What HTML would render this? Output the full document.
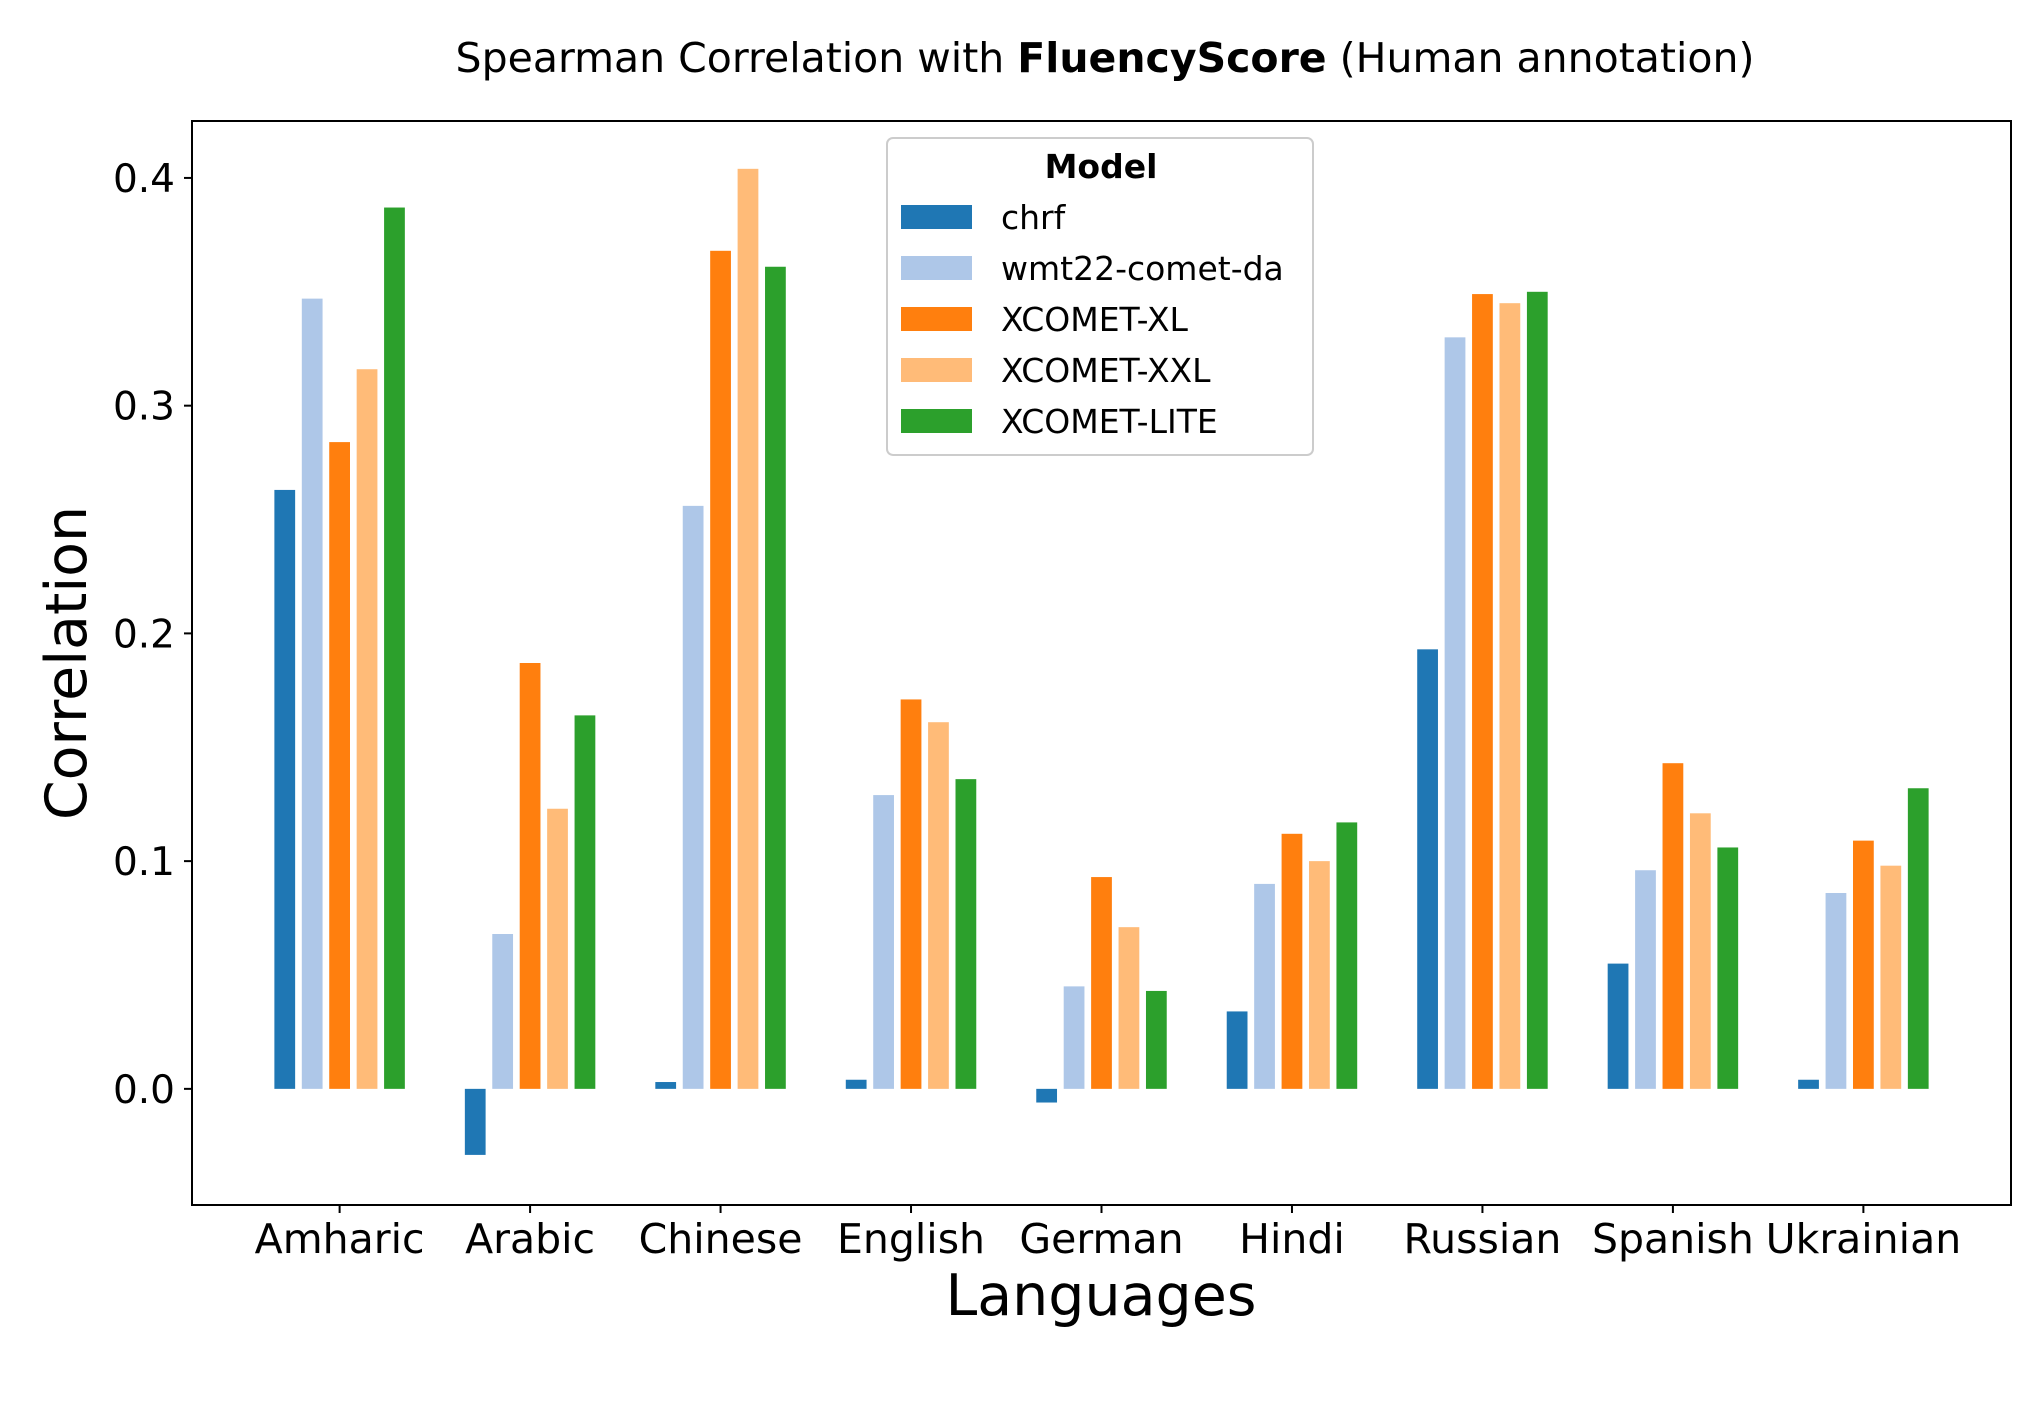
<!DOCTYPE html>
<html><head><meta charset="utf-8"><style>
html,body{margin:0;padding:0;background:#fff}
svg{display:block;font-family:"DejaVu Sans","Liberation Sans",sans-serif}
</style></head><body>
<svg id="chart" width="2043" height="1427" viewBox="0 0 2043 1427">
<rect width="2043" height="1427" fill="#fff"/>
<text x="1105" y="72" font-size="41" text-anchor="middle">Spearman Correlation with <tspan font-weight="bold">FluencyScore</tspan> (Human annotation)</text>
<g id="plot"></g>
<rect x="192" y="121" width="1819" height="1084" fill="none" stroke="#000" stroke-width="2"/>
<text transform="translate(86,663) rotate(-90)" font-size="57" text-anchor="middle">Correlation</text>
<text x="1101" y="1315" font-size="57" text-anchor="middle">Languages</text>
<g>
<rect x="887" y="138" width="426" height="317" rx="6" fill="#fff" fill-opacity="0.8" stroke="#ccc" stroke-width="2"/>
<text x="1101" y="178" font-size="33" font-weight="bold" text-anchor="middle">Model</text>
<g id="legend-items"></g>
</g>
</svg>
<script>
const categories = ["Amharic","Arabic","Chinese","English","German","Hindi","Russian","Spanish","Ukrainian"];
const seriesNames = ["chrf","wmt22-comet-da","XCOMET-XL","XCOMET-XXL","XCOMET-LITE"];
const seriesColors = ["#1f77b4","#aec7e8","#ff7f0e","#ffbb78","#2ca02c"];
const chrf = [0.263,-0.029,0.003,0.004,-0.006,0.034,0.193,0.055,0.004];
const wmt22 = [0.347,0.068,0.256,0.129,0.045,0.090,0.330,0.096,0.086];
const xcometXL = [0.284,0.187,0.368,0.171,0.093,0.112,0.349,0.143,0.109];
const xcometXXL = [0.316,0.123,0.404,0.161,0.071,0.100,0.345,0.121,0.098];
const xcometLITE = [0.387,0.164,0.361,0.136,0.043,0.117,0.350,0.106,0.132];
const yTicks = [0.0,0.1,0.2,0.3,0.4];
const yTickLabels = ["0.0","0.1","0.2","0.3","0.4"];

const series = [chrf, wmt22, xcometXL, xcometXXL, xcometLITE];
const NS = "http://www.w3.org/2000/svg";
const L=192, R=2011, T=121, B=1205;
const xMin=-0.775, xMax=categories.length-1+0.775;
const yMin=-0.051, yMax=0.425;
function xs(v){return L+(v-xMin)/(xMax-xMin)*(R-L);}
function ys(v){return B-(v-yMin)/(yMax-yMin)*(B-T);}
const slot=0.144, bw=0.109;
const plot=document.getElementById('plot');
function mk(tag,attrs,parent){const e=document.createElementNS(NS,tag);for(const k in attrs)e.setAttribute(k,attrs[k]);parent.appendChild(e);return e;}
series.forEach((vals,s)=>{
  vals.forEach((v,i)=>{
    const cx=i+(s-2)*slot;
    const x0=xs(cx-bw/2), x1=xs(cx+bw/2);
    const y0=ys(Math.max(v,0)), y1=ys(Math.min(v,0));
    const r=mk('rect',{x:x0,y:y0,width:x1-x0,height:Math.max(y1-y0,0.5),fill:seriesColors[s]},plot);
    
    
  });
});
categories.forEach((c,i)=>{
  const x=xs(i);
  const t=mk('line',{x1:x,x2:x,y1:B,y2:B+8,stroke:'#000','stroke-width':2},plot);
  
  
  const lb=mk('text',{x:x,y:1253,'font-size':41,'text-anchor':'middle'},plot);
  lb.textContent=c;
  
  
});
yTicks.forEach((v,i)=>{
  const y=ys(v);
  const t=mk('line',{x1:L-8,x2:L,y1:y,y2:y,stroke:'#000','stroke-width':2},plot);
  
  
  const lb=mk('text',{x:L-17,y:y+14,'font-size':39,'text-anchor':'end'},plot);
  lb.textContent=yTickLabels[i];
  
  
});
const leg=document.getElementById('legend-items');
seriesNames.forEach((n,s)=>{
  const cy=217+s*51;
  const p=mk('rect',{x:901,y:cy-12,width:71,height:24,fill:seriesColors[s]},leg);
  
  
  const t=mk('text',{x:1001,y:cy+12,'font-size':33},leg);
  t.textContent=n;
  
  
});
</script>
</body></html>
